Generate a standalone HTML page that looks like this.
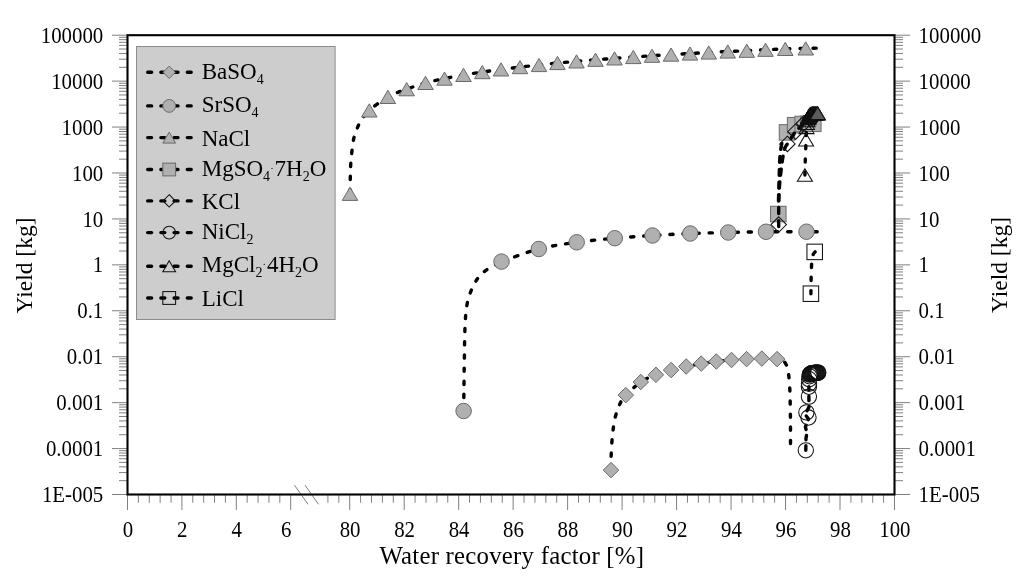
<!DOCTYPE html>
<html><head><meta charset="utf-8"><title>Yield vs water recovery factor</title>
<style>html,body{margin:0;padding:0;background:#fff}svg{display:block}</style></head>
<body>
<svg width="1024" height="587" viewBox="0 0 1024 587" font-family="Liberation Serif, serif">
<rect width="1024" height="587" fill="#fff"/>
<path d="M112.00 494.50 H127.50 M894.50 494.50 H910.00 M119.00 480.67 H127.50 M894.50 480.67 H903.00 M119.00 472.59 H127.50 M894.50 472.59 H903.00 M119.00 466.85 H127.50 M894.50 466.85 H903.00 M119.00 462.40 H127.50 M894.50 462.40 H903.00 M119.00 458.76 H127.50 M894.50 458.76 H903.00 M119.00 455.68 H127.50 M894.50 455.68 H903.00 M119.00 453.02 H127.50 M894.50 453.02 H903.00 M119.00 450.67 H127.50 M894.50 450.67 H903.00 M112.00 448.57 H127.50 M894.50 448.57 H910.00 M119.00 434.74 H127.50 M894.50 434.74 H903.00 M119.00 426.66 H127.50 M894.50 426.66 H903.00 M119.00 420.92 H127.50 M894.50 420.92 H903.00 M119.00 416.47 H127.50 M894.50 416.47 H903.00 M119.00 412.83 H127.50 M894.50 412.83 H903.00 M119.00 409.75 H127.50 M894.50 409.75 H903.00 M119.00 407.09 H127.50 M894.50 407.09 H903.00 M119.00 404.74 H127.50 M894.50 404.74 H903.00 M112.00 402.64 H127.50 M894.50 402.64 H910.00 M119.00 388.81 H127.50 M894.50 388.81 H903.00 M119.00 380.73 H127.50 M894.50 380.73 H903.00 M119.00 374.99 H127.50 M894.50 374.99 H903.00 M119.00 370.54 H127.50 M894.50 370.54 H903.00 M119.00 366.90 H127.50 M894.50 366.90 H903.00 M119.00 363.82 H127.50 M894.50 363.82 H903.00 M119.00 361.16 H127.50 M894.50 361.16 H903.00 M119.00 358.81 H127.50 M894.50 358.81 H903.00 M112.00 356.71 H127.50 M894.50 356.71 H910.00 M119.00 342.88 H127.50 M894.50 342.88 H903.00 M119.00 334.80 H127.50 M894.50 334.80 H903.00 M119.00 329.06 H127.50 M894.50 329.06 H903.00 M119.00 324.61 H127.50 M894.50 324.61 H903.00 M119.00 320.97 H127.50 M894.50 320.97 H903.00 M119.00 317.89 H127.50 M894.50 317.89 H903.00 M119.00 315.23 H127.50 M894.50 315.23 H903.00 M119.00 312.88 H127.50 M894.50 312.88 H903.00 M112.00 310.78 H127.50 M894.50 310.78 H910.00 M119.00 296.95 H127.50 M894.50 296.95 H903.00 M119.00 288.87 H127.50 M894.50 288.87 H903.00 M119.00 283.13 H127.50 M894.50 283.13 H903.00 M119.00 278.68 H127.50 M894.50 278.68 H903.00 M119.00 275.04 H127.50 M894.50 275.04 H903.00 M119.00 271.96 H127.50 M894.50 271.96 H903.00 M119.00 269.30 H127.50 M894.50 269.30 H903.00 M119.00 266.95 H127.50 M894.50 266.95 H903.00 M112.00 264.85 H127.50 M894.50 264.85 H910.00 M119.00 251.02 H127.50 M894.50 251.02 H903.00 M119.00 242.94 H127.50 M894.50 242.94 H903.00 M119.00 237.20 H127.50 M894.50 237.20 H903.00 M119.00 232.75 H127.50 M894.50 232.75 H903.00 M119.00 229.11 H127.50 M894.50 229.11 H903.00 M119.00 226.03 H127.50 M894.50 226.03 H903.00 M119.00 223.37 H127.50 M894.50 223.37 H903.00 M119.00 221.02 H127.50 M894.50 221.02 H903.00 M112.00 218.92 H127.50 M894.50 218.92 H910.00 M119.00 205.09 H127.50 M894.50 205.09 H903.00 M119.00 197.01 H127.50 M894.50 197.01 H903.00 M119.00 191.27 H127.50 M894.50 191.27 H903.00 M119.00 186.82 H127.50 M894.50 186.82 H903.00 M119.00 183.18 H127.50 M894.50 183.18 H903.00 M119.00 180.10 H127.50 M894.50 180.10 H903.00 M119.00 177.44 H127.50 M894.50 177.44 H903.00 M119.00 175.09 H127.50 M894.50 175.09 H903.00 M112.00 172.99 H127.50 M894.50 172.99 H910.00 M119.00 159.16 H127.50 M894.50 159.16 H903.00 M119.00 151.08 H127.50 M894.50 151.08 H903.00 M119.00 145.34 H127.50 M894.50 145.34 H903.00 M119.00 140.89 H127.50 M894.50 140.89 H903.00 M119.00 137.25 H127.50 M894.50 137.25 H903.00 M119.00 134.17 H127.50 M894.50 134.17 H903.00 M119.00 131.51 H127.50 M894.50 131.51 H903.00 M119.00 129.16 H127.50 M894.50 129.16 H903.00 M112.00 127.06 H127.50 M894.50 127.06 H910.00 M119.00 113.23 H127.50 M894.50 113.23 H903.00 M119.00 105.15 H127.50 M894.50 105.15 H903.00 M119.00 99.41 H127.50 M894.50 99.41 H903.00 M119.00 94.96 H127.50 M894.50 94.96 H903.00 M119.00 91.32 H127.50 M894.50 91.32 H903.00 M119.00 88.24 H127.50 M894.50 88.24 H903.00 M119.00 85.58 H127.50 M894.50 85.58 H903.00 M119.00 83.23 H127.50 M894.50 83.23 H903.00 M112.00 81.13 H127.50 M894.50 81.13 H910.00 M119.00 67.30 H127.50 M894.50 67.30 H903.00 M119.00 59.22 H127.50 M894.50 59.22 H903.00 M119.00 53.48 H127.50 M894.50 53.48 H903.00 M119.00 49.03 H127.50 M894.50 49.03 H903.00 M119.00 45.39 H127.50 M894.50 45.39 H903.00 M119.00 42.31 H127.50 M894.50 42.31 H903.00 M119.00 39.65 H127.50 M894.50 39.65 H903.00 M119.00 37.30 H127.50 M894.50 37.30 H903.00 M112.00 35.20 H127.50 M894.50 35.20 H910.00 M127.50 494.50 V510.00 M138.38 494.50 V502.75 M149.26 494.50 V502.75 M160.14 494.50 V502.75 M171.02 494.50 V502.75 M181.90 494.50 V510.00 M192.78 494.50 V502.75 M203.66 494.50 V502.75 M214.54 494.50 V502.75 M225.42 494.50 V502.75 M236.30 494.50 V510.00 M247.18 494.50 V502.75 M258.06 494.50 V502.75 M268.94 494.50 V502.75 M279.82 494.50 V502.75 M290.70 494.50 V510.00 M327.91 494.50 V502.75 M338.80 494.50 V502.75 M349.70 494.50 V510.00 M360.60 494.50 V502.75 M371.49 494.50 V502.75 M382.39 494.50 V502.75 M393.28 494.50 V502.75 M404.18 494.50 V510.00 M415.08 494.50 V502.75 M425.97 494.50 V502.75 M436.87 494.50 V502.75 M447.76 494.50 V502.75 M458.66 494.50 V510.00 M469.56 494.50 V502.75 M480.45 494.50 V502.75 M491.35 494.50 V502.75 M502.24 494.50 V502.75 M513.14 494.50 V510.00 M524.04 494.50 V502.75 M534.93 494.50 V502.75 M545.83 494.50 V502.75 M556.72 494.50 V502.75 M567.62 494.50 V510.00 M578.52 494.50 V502.75 M589.41 494.50 V502.75 M600.31 494.50 V502.75 M611.20 494.50 V502.75 M622.10 494.50 V510.00 M633.00 494.50 V502.75 M643.89 494.50 V502.75 M654.79 494.50 V502.75 M665.68 494.50 V502.75 M676.58 494.50 V510.00 M687.48 494.50 V502.75 M698.37 494.50 V502.75 M709.27 494.50 V502.75 M720.16 494.50 V502.75 M731.06 494.50 V510.00 M741.96 494.50 V502.75 M752.85 494.50 V502.75 M763.75 494.50 V502.75 M774.64 494.50 V502.75 M785.54 494.50 V510.00 M796.44 494.50 V502.75 M807.33 494.50 V502.75 M818.23 494.50 V502.75 M829.12 494.50 V502.75 M840.02 494.50 V510.00 M850.92 494.50 V502.75 M861.81 494.50 V502.75 M872.71 494.50 V502.75 M883.60 494.50 V502.75 M894.50 494.50 V510.00" stroke="#808080" stroke-width="1" fill="none"/>
<path d="M294.5 485.2 L308 504.3 M305 485.2 L318.5 504.3" stroke="#808080" stroke-width="1" fill="none"/>
<rect x="136.5" y="46.5" width="198.6" height="273" fill="#cdcdcd" stroke="#8c8c8c" stroke-width="1"/>
<path d="M611.00 470.10 C611.02 467.92 610.87 462.68 611.10 457.00 C611.33 451.32 611.78 442.33 612.40 436.00 C613.02 429.67 613.77 423.83 614.80 419.00 C615.83 414.17 617.40 410.17 618.60 407.00 C619.80 403.83 620.80 401.98 622.00 400.00 C623.20 398.02 625.17 395.92 625.80 395.10" fill="none" stroke="#000" stroke-width="3.4" stroke-linecap="round" stroke-dasharray="3.2 9.9" stroke-dashoffset="12.30"/>
<path d="M625.80 395.10 C628.30 392.92 635.78 385.38 640.80 382.00 C645.82 378.62 650.85 376.78 655.90 374.80 C660.95 372.82 666.05 371.48 671.10 370.10 C676.15 368.72 681.18 367.58 686.20 366.50 C691.22 365.42 696.18 364.43 701.20 363.60 C706.22 362.77 711.25 362.10 716.30 361.50 C721.35 360.90 726.45 360.40 731.50 360.00 C736.55 359.60 741.55 359.33 746.60 359.10 C751.65 358.87 756.72 358.60 761.80 358.60 C766.88 358.60 773.90 358.93 777.10 359.10 C780.30 359.27 779.77 359.12 781.00 359.60 C782.23 360.08 783.48 360.77 784.50 362.00 C785.52 363.23 786.38 364.67 787.10 367.00 C787.82 369.33 788.35 372.33 788.80 376.00 C789.25 379.67 789.57 384.55 789.80 389.00 C790.03 393.45 790.10 398.20 790.20 402.70 C790.30 407.20 790.35 411.68 790.40 416.00 C790.45 420.32 790.48 423.60 790.50 428.60 C790.52 433.60 790.50 443.10 790.50 446.00" fill="none" stroke="#000" stroke-width="3.4" stroke-linecap="round" stroke-dasharray="3.2 9.9" stroke-dashoffset="2.02"/>
<path d="M611.00 462.35 L618.75 470.10 L611.00 477.85 L603.25 470.10 Z" fill="#b0b0b0" stroke="#6a6a6a" stroke-width="1"/>
<path d="M625.80 387.35 L633.55 395.10 L625.80 402.85 L618.05 395.10 Z" fill="#b0b0b0" stroke="#6a6a6a" stroke-width="1"/>
<path d="M640.80 374.25 L648.55 382.00 L640.80 389.75 L633.05 382.00 Z" fill="#b0b0b0" stroke="#6a6a6a" stroke-width="1"/>
<path d="M655.90 367.05 L663.65 374.80 L655.90 382.55 L648.15 374.80 Z" fill="#b0b0b0" stroke="#6a6a6a" stroke-width="1"/>
<path d="M671.10 362.35 L678.85 370.10 L671.10 377.85 L663.35 370.10 Z" fill="#b0b0b0" stroke="#6a6a6a" stroke-width="1"/>
<path d="M686.20 358.75 L693.95 366.50 L686.20 374.25 L678.45 366.50 Z" fill="#b0b0b0" stroke="#6a6a6a" stroke-width="1"/>
<path d="M701.20 355.85 L708.95 363.60 L701.20 371.35 L693.45 363.60 Z" fill="#b0b0b0" stroke="#6a6a6a" stroke-width="1"/>
<path d="M716.30 353.75 L724.05 361.50 L716.30 369.25 L708.55 361.50 Z" fill="#b0b0b0" stroke="#6a6a6a" stroke-width="1"/>
<path d="M731.50 352.25 L739.25 360.00 L731.50 367.75 L723.75 360.00 Z" fill="#b0b0b0" stroke="#6a6a6a" stroke-width="1"/>
<path d="M746.60 351.35 L754.35 359.10 L746.60 366.85 L738.85 359.10 Z" fill="#b0b0b0" stroke="#6a6a6a" stroke-width="1"/>
<path d="M761.80 350.85 L769.55 358.60 L761.80 366.35 L754.05 358.60 Z" fill="#b0b0b0" stroke="#6a6a6a" stroke-width="1"/>
<path d="M777.10 351.35 L784.85 359.10 L777.10 366.85 L769.35 359.10 Z" fill="#b0b0b0" stroke="#6a6a6a" stroke-width="1"/>
<path d="M463.60 411.00 C463.65 407.77 463.78 399.60 463.90 391.60 C464.02 383.60 464.12 373.72 464.30 363.00 C464.48 352.28 464.58 336.83 465.00 327.30 C465.42 317.77 465.72 312.07 466.80 305.80 C467.88 299.53 469.53 294.47 471.50 289.70 C473.47 284.93 475.93 280.60 478.60 277.20 C481.27 273.80 483.68 271.90 487.50 269.30 C491.32 266.70 499.17 262.88 501.50 261.60" fill="none" stroke="#000" stroke-width="3.4" stroke-linecap="round" stroke-dasharray="3.2 9.9" stroke-dashoffset="12.50"/>
<path d="M501.50 261.60 C507.72 259.50 526.27 252.22 538.80 249.00 C551.33 245.78 564.03 244.10 576.70 242.30 C589.37 240.50 602.17 239.33 614.80 238.20 C627.43 237.07 639.92 236.28 652.50 235.50 C665.08 234.72 677.62 234.00 690.25 233.50 C702.88 233.00 715.62 232.79 728.25 232.50 C740.88 232.21 752.96 231.88 766.00 231.75 C779.04 231.62 797.58 231.71 806.50 231.70 C815.42 231.69 817.33 231.70 819.50 231.70" fill="none" stroke="#000" stroke-width="3.4" stroke-linecap="round" stroke-dasharray="3.2 9.9" stroke-dashoffset="12.01"/>
<circle cx="463.60" cy="411.00" r="7.75" fill="#b0b0b0" stroke="#6a6a6a" stroke-width="1"/>
<circle cx="501.50" cy="261.60" r="7.75" fill="#b0b0b0" stroke="#6a6a6a" stroke-width="1"/>
<circle cx="538.80" cy="249.00" r="7.75" fill="#b0b0b0" stroke="#6a6a6a" stroke-width="1"/>
<circle cx="576.70" cy="242.30" r="7.75" fill="#b0b0b0" stroke="#6a6a6a" stroke-width="1"/>
<circle cx="614.80" cy="238.20" r="7.75" fill="#b0b0b0" stroke="#6a6a6a" stroke-width="1"/>
<circle cx="652.50" cy="235.50" r="7.75" fill="#b0b0b0" stroke="#6a6a6a" stroke-width="1"/>
<circle cx="690.25" cy="233.50" r="7.75" fill="#b0b0b0" stroke="#6a6a6a" stroke-width="1"/>
<circle cx="728.25" cy="232.50" r="7.75" fill="#b0b0b0" stroke="#6a6a6a" stroke-width="1"/>
<circle cx="766.00" cy="231.75" r="7.75" fill="#b0b0b0" stroke="#6a6a6a" stroke-width="1"/>
<circle cx="806.50" cy="231.70" r="7.75" fill="#b0b0b0" stroke="#6a6a6a" stroke-width="1"/>
<path d="M350.00 193.80 C350.05 191.12 350.18 182.57 350.30 177.70 C350.42 172.83 350.43 168.97 350.70 164.60 C350.97 160.23 351.38 155.87 351.90 151.50 C352.42 147.13 352.80 142.57 353.80 138.40 C354.80 134.23 356.30 130.05 357.90 126.50 C359.50 122.95 361.50 119.85 363.40 117.10 C365.30 114.35 368.32 111.18 369.30 110.00" fill="none" stroke="#000" stroke-width="3.4" stroke-linecap="round" stroke-dasharray="3.2 9.9" stroke-dashoffset="12.00"/>
<path d="M369.30 110.00 C372.40 107.82 381.67 100.37 387.90 96.90 C394.13 93.43 400.43 91.53 406.70 89.20 C412.97 86.87 419.20 84.67 425.50 82.90 C431.80 81.13 438.17 79.93 444.50 78.60 C450.83 77.27 457.20 75.98 463.50 74.90 C469.80 73.82 476.05 73.02 482.30 72.10 C488.55 71.18 494.72 70.23 501.00 69.40 C507.28 68.57 513.67 67.83 520.00 67.10 C526.33 66.37 532.75 65.68 539.00 65.00 C545.25 64.32 551.25 63.60 557.50 63.00 C563.75 62.40 570.17 61.94 576.50 61.40 C582.83 60.86 589.17 60.25 595.50 59.75 C601.83 59.25 608.20 58.86 614.50 58.40 C620.80 57.94 627.05 57.44 633.30 57.00 C639.55 56.56 645.72 56.15 652.00 55.75 C658.28 55.35 664.67 54.98 671.00 54.60 C677.33 54.23 683.71 53.85 690.00 53.50 C696.29 53.15 702.46 52.83 708.75 52.50 C715.04 52.17 721.42 51.79 727.75 51.50 C734.08 51.21 740.46 51.04 746.75 50.75 C753.04 50.46 759.08 50.06 765.50 49.75 C771.92 49.44 778.54 49.12 785.25 48.90 C791.96 48.67 800.04 48.55 805.75 48.40 C811.46 48.25 817.21 48.07 819.50 48.00" fill="none" stroke="#000" stroke-width="3.4" stroke-linecap="round" stroke-dasharray="3.2 9.9" stroke-dashoffset="6.09"/>
<path d="M350.00 187.20 L357.75 200.40 L342.25 200.40 Z" fill="#b0b0b0" stroke="#6a6a6a" stroke-width="1"/>
<path d="M369.30 103.80 L377.05 117.00 L361.55 117.00 Z" fill="#b0b0b0" stroke="#6a6a6a" stroke-width="1"/>
<path d="M387.90 90.30 L395.65 103.50 L380.15 103.50 Z" fill="#b0b0b0" stroke="#6a6a6a" stroke-width="1"/>
<path d="M406.70 82.60 L414.45 95.80 L398.95 95.80 Z" fill="#b0b0b0" stroke="#6a6a6a" stroke-width="1"/>
<path d="M425.50 76.30 L433.25 89.50 L417.75 89.50 Z" fill="#b0b0b0" stroke="#6a6a6a" stroke-width="1"/>
<path d="M444.50 72.00 L452.25 85.20 L436.75 85.20 Z" fill="#b0b0b0" stroke="#6a6a6a" stroke-width="1"/>
<path d="M463.50 68.30 L471.25 81.50 L455.75 81.50 Z" fill="#b0b0b0" stroke="#6a6a6a" stroke-width="1"/>
<path d="M482.30 65.50 L490.05 78.70 L474.55 78.70 Z" fill="#b0b0b0" stroke="#6a6a6a" stroke-width="1"/>
<path d="M501.00 62.80 L508.75 76.00 L493.25 76.00 Z" fill="#b0b0b0" stroke="#6a6a6a" stroke-width="1"/>
<path d="M520.00 60.50 L527.75 73.70 L512.25 73.70 Z" fill="#b0b0b0" stroke="#6a6a6a" stroke-width="1"/>
<path d="M539.00 58.40 L546.75 71.60 L531.25 71.60 Z" fill="#b0b0b0" stroke="#6a6a6a" stroke-width="1"/>
<path d="M557.50 56.40 L565.25 69.60 L549.75 69.60 Z" fill="#b0b0b0" stroke="#6a6a6a" stroke-width="1"/>
<path d="M576.50 54.80 L584.25 68.00 L568.75 68.00 Z" fill="#b0b0b0" stroke="#6a6a6a" stroke-width="1"/>
<path d="M595.50 53.15 L603.25 66.35 L587.75 66.35 Z" fill="#b0b0b0" stroke="#6a6a6a" stroke-width="1"/>
<path d="M614.50 51.80 L622.25 65.00 L606.75 65.00 Z" fill="#b0b0b0" stroke="#6a6a6a" stroke-width="1"/>
<path d="M633.30 50.40 L641.05 63.60 L625.55 63.60 Z" fill="#b0b0b0" stroke="#6a6a6a" stroke-width="1"/>
<path d="M652.00 49.15 L659.75 62.35 L644.25 62.35 Z" fill="#b0b0b0" stroke="#6a6a6a" stroke-width="1"/>
<path d="M671.00 48.00 L678.75 61.20 L663.25 61.20 Z" fill="#b0b0b0" stroke="#6a6a6a" stroke-width="1"/>
<path d="M690.00 46.90 L697.75 60.10 L682.25 60.10 Z" fill="#b0b0b0" stroke="#6a6a6a" stroke-width="1"/>
<path d="M708.75 45.90 L716.50 59.10 L701.00 59.10 Z" fill="#b0b0b0" stroke="#6a6a6a" stroke-width="1"/>
<path d="M727.75 44.90 L735.50 58.10 L720.00 58.10 Z" fill="#b0b0b0" stroke="#6a6a6a" stroke-width="1"/>
<path d="M746.75 44.15 L754.50 57.35 L739.00 57.35 Z" fill="#b0b0b0" stroke="#6a6a6a" stroke-width="1"/>
<path d="M765.50 43.15 L773.25 56.35 L757.75 56.35 Z" fill="#b0b0b0" stroke="#6a6a6a" stroke-width="1"/>
<path d="M785.25 42.30 L793.00 55.50 L777.50 55.50 Z" fill="#b0b0b0" stroke="#6a6a6a" stroke-width="1"/>
<path d="M805.75 41.80 L813.50 55.00 L798.00 55.00 Z" fill="#b0b0b0" stroke="#6a6a6a" stroke-width="1"/>
<path d="M778.30 214.00 C778.33 211.67 778.40 204.67 778.50 200.00 C778.60 195.33 778.77 190.50 778.90 186.00 C779.03 181.50 779.15 177.50 779.30 173.00 C779.45 168.50 779.47 163.50 779.80 159.00 C780.13 154.50 780.63 149.50 781.30 146.00 C781.97 142.50 782.85 140.27 783.80 138.00 C784.75 135.73 785.12 134.53 787.00 132.40 C788.88 130.27 792.48 126.60 795.10 125.20 C797.72 123.80 799.67 124.23 802.70 124.00 C805.73 123.77 811.53 123.83 813.30 123.80" fill="none" stroke="#000" stroke-width="3.4" stroke-linecap="round" stroke-dasharray="6 6.9"/>
<rect x="770.55" y="206.25" width="15.50" height="15.50" fill="#b0b0b0" stroke="#6a6a6a" stroke-width="1"/>
<rect x="779.25" y="124.65" width="15.50" height="15.50" fill="#b0b0b0" stroke="#6a6a6a" stroke-width="1"/>
<rect x="787.35" y="117.45" width="15.50" height="15.50" fill="#b0b0b0" stroke="#6a6a6a" stroke-width="1"/>
<rect x="794.95" y="116.25" width="15.50" height="15.50" fill="#b0b0b0" stroke="#6a6a6a" stroke-width="1"/>
<rect x="800.75" y="116.05" width="15.50" height="15.50" fill="#b0b0b0" stroke="#6a6a6a" stroke-width="1"/>
<rect x="805.55" y="116.05" width="15.50" height="15.50" fill="#b0b0b0" stroke="#6a6a6a" stroke-width="1"/>
<path d="M778.70 226.50 C778.70 223.75 778.65 214.92 778.70 210.00 C778.75 205.08 778.87 201.00 779.00 197.00 C779.13 193.00 779.20 190.00 779.50 186.00 C779.80 182.00 780.28 177.50 780.80 173.00 C781.32 168.50 781.93 163.08 782.60 159.00 C783.27 154.92 784.00 151.02 784.80 148.50 C785.60 145.98 785.62 146.70 787.40 143.90 C789.18 141.10 792.73 135.13 795.50 131.70 C798.27 128.27 801.58 125.42 804.00 123.30 C806.42 121.18 808.25 120.13 810.00 119.00 C811.75 117.87 813.75 116.92 814.50 116.50" fill="none" stroke="#000" stroke-width="3.4" stroke-linecap="round" stroke-dasharray="6 6.9"/>
<path d="M778.70 216.85 L786.45 224.60 L778.70 232.35 L770.95 224.60 Z" fill="none" stroke="#111" stroke-width="1.05"/>
<path d="M787.40 136.15 L795.15 143.90 L787.40 151.65 L779.65 143.90 Z" fill="none" stroke="#111" stroke-width="1.05"/>
<path d="M795.50 123.95 L803.25 131.70 L795.50 139.45 L787.75 131.70 Z" fill="none" stroke="#111" stroke-width="1.05"/>
<path d="M804.00 115.55 L811.75 123.30 L804.00 131.05 L796.25 123.30 Z" fill="none" stroke="#111" stroke-width="1.05"/>
<path d="M810.00 111.25 L817.75 119.00 L810.00 126.75 L802.25 119.00 Z" fill="none" stroke="#111" stroke-width="1.05"/>
<path d="M814.50 108.75 L822.25 116.50 L814.50 124.25 L806.75 116.50 Z" fill="none" stroke="#111" stroke-width="1.05"/>
<path d="M805.8 450.3 L806.0 438.0 L807.0 433.0 L805.4 427.0 L808.5 419.0 L805.2 414.5 L808.9 407.0 L808.9 396.6 L808.9 386.8" fill="none" stroke="#000" stroke-width="3.4" stroke-linecap="round" stroke-dasharray="4.5 6"/>
<circle cx="805.80" cy="450.30" r="7.65" fill="none" stroke="#111" stroke-width="1.05"/>
<circle cx="808.50" cy="417.50" r="7.65" fill="none" stroke="#111" stroke-width="1.05"/>
<circle cx="806.40" cy="412.40" r="7.65" fill="none" stroke="#111" stroke-width="1.05"/>
<circle cx="808.90" cy="396.60" r="7.65" fill="none" stroke="#111" stroke-width="1.05"/>
<circle cx="808.90" cy="386.80" r="7.65" fill="none" stroke="#111" stroke-width="1.05"/>
<circle cx="809.00" cy="383.60" r="7.65" fill="none" stroke="#111" stroke-width="1.05"/>
<circle cx="809.20" cy="379.20" r="7.65" fill="none" stroke="#111" stroke-width="1.05"/>
<circle cx="809.50" cy="376.30" r="7.65" fill="none" stroke="#111" stroke-width="1.05"/>
<circle cx="809.80" cy="374.60" r="7.65" fill="none" stroke="#111" stroke-width="1.05"/>
<circle cx="810.21" cy="374.14" r="7.65" fill="none" stroke="#111" stroke-width="1.05"/>
<circle cx="810.63" cy="373.69" r="7.65" fill="none" stroke="#111" stroke-width="1.05"/>
<circle cx="811.22" cy="373.48" r="7.65" fill="none" stroke="#111" stroke-width="1.05"/>
<circle cx="811.80" cy="373.27" r="7.65" fill="none" stroke="#111" stroke-width="1.05"/>
<circle cx="812.40" cy="373.14" r="7.65" fill="none" stroke="#111" stroke-width="1.05"/>
<circle cx="813.02" cy="373.05" r="7.65" fill="none" stroke="#111" stroke-width="1.05"/>
<circle cx="813.63" cy="372.96" r="7.65" fill="none" stroke="#111" stroke-width="1.05"/>
<circle cx="814.25" cy="372.88" r="7.65" fill="none" stroke="#111" stroke-width="1.05"/>
<circle cx="814.86" cy="372.81" r="7.65" fill="none" stroke="#111" stroke-width="1.05"/>
<circle cx="815.48" cy="372.75" r="7.65" fill="none" stroke="#111" stroke-width="1.05"/>
<circle cx="816.10" cy="372.70" r="7.65" fill="none" stroke="#111" stroke-width="1.05"/>
<circle cx="816.72" cy="372.67" r="7.65" fill="none" stroke="#111" stroke-width="1.05"/>
<circle cx="817.34" cy="372.64" r="7.65" fill="none" stroke="#111" stroke-width="1.05"/>
<circle cx="817.96" cy="372.61" r="7.65" fill="none" stroke="#111" stroke-width="1.05"/>
<circle cx="818.30" cy="372.60" r="7.65" fill="none" stroke="#111" stroke-width="1.05"/>
<path d="M804.90 175.00 C804.97 172.50 805.10 165.88 805.30 160.00 C805.50 154.12 805.90 145.15 806.10 139.70 C806.30 134.25 806.18 130.92 806.50 127.30 C806.82 123.68 807.42 120.28 808.00 118.00 C808.58 115.72 809.67 114.33 810.00 113.60" fill="none" stroke="#000" stroke-width="3.4" stroke-linecap="round" stroke-dasharray="3.2 9.9"/>
<path d="M804.90 168.70 L812.40 181.30 L797.40 181.30 Z" fill="none" stroke="#111" stroke-width="1.05"/>
<path d="M806.10 133.40 L813.60 146.00 L798.60 146.00 Z" fill="none" stroke="#111" stroke-width="1.05"/>
<path d="M806.50 121.00 L814.00 133.60 L799.00 133.60 Z" fill="none" stroke="#111" stroke-width="1.05"/>
<path d="M807.00 116.90 L814.50 129.50 L799.50 129.50 Z" fill="none" stroke="#111" stroke-width="1.05"/>
<path d="M807.50 114.10 L815.00 126.70 L800.00 126.70 Z" fill="none" stroke="#111" stroke-width="1.05"/>
<path d="M808.00 112.00 L815.50 124.60 L800.50 124.60 Z" fill="none" stroke="#111" stroke-width="1.05"/>
<path d="M808.15 111.58 L815.65 124.18 L800.65 124.18 Z" fill="none" stroke="#111" stroke-width="1.05"/>
<path d="M808.30 111.15 L815.80 123.75 L800.80 123.75 Z" fill="none" stroke="#111" stroke-width="1.05"/>
<path d="M808.45 110.73 L815.95 123.33 L800.95 123.33 Z" fill="none" stroke="#111" stroke-width="1.05"/>
<path d="M808.60 110.30 L816.10 122.90 L801.10 122.90 Z" fill="none" stroke="#111" stroke-width="1.05"/>
<path d="M808.81 109.91 L816.31 122.51 L801.31 122.51 Z" fill="none" stroke="#111" stroke-width="1.05"/>
<path d="M809.03 109.51 L816.53 122.11 L801.53 122.11 Z" fill="none" stroke="#111" stroke-width="1.05"/>
<path d="M809.24 109.11 L816.74 121.71 L801.74 121.71 Z" fill="none" stroke="#111" stroke-width="1.05"/>
<path d="M809.51 108.76 L817.01 121.36 L802.01 121.36 Z" fill="none" stroke="#111" stroke-width="1.05"/>
<path d="M809.82 108.43 L817.32 121.03 L802.32 121.03 Z" fill="none" stroke="#111" stroke-width="1.05"/>
<path d="M810.12 108.09 L817.62 120.69 L802.62 120.69 Z" fill="none" stroke="#111" stroke-width="1.05"/>
<path d="M810.49 107.85 L817.99 120.45 L802.99 120.45 Z" fill="none" stroke="#111" stroke-width="1.05"/>
<path d="M810.89 107.65 L818.39 120.25 L803.39 120.25 Z" fill="none" stroke="#111" stroke-width="1.05"/>
<path d="M811.30 107.45 L818.80 120.05 L803.80 120.05 Z" fill="none" stroke="#111" stroke-width="1.05"/>
<path d="M811.73 107.33 L819.23 119.93 L804.23 119.93 Z" fill="none" stroke="#111" stroke-width="1.05"/>
<path d="M812.17 107.24 L819.67 119.84 L804.67 119.84 Z" fill="none" stroke="#111" stroke-width="1.05"/>
<path d="M812.61 107.14 L820.11 119.74 L805.11 119.74 Z" fill="none" stroke="#111" stroke-width="1.05"/>
<path d="M813.05 107.09 L820.55 119.69 L805.55 119.69 Z" fill="none" stroke="#111" stroke-width="1.05"/>
<path d="M813.50 107.09 L821.00 119.69 L806.00 119.69 Z" fill="none" stroke="#111" stroke-width="1.05"/>
<path d="M813.95 107.08 L821.45 119.68 L806.45 119.68 Z" fill="none" stroke="#111" stroke-width="1.05"/>
<path d="M814.40 107.07 L821.90 119.67 L806.90 119.67 Z" fill="none" stroke="#111" stroke-width="1.05"/>
<path d="M814.85 107.06 L822.35 119.66 L807.35 119.66 Z" fill="none" stroke="#111" stroke-width="1.05"/>
<path d="M815.30 107.05 L822.80 119.65 L807.80 119.65 Z" fill="none" stroke="#111" stroke-width="1.05"/>
<path d="M815.75 107.04 L823.25 119.64 L808.25 119.64 Z" fill="none" stroke="#111" stroke-width="1.05"/>
<path d="M816.20 107.03 L823.70 119.63 L808.70 119.63 Z" fill="none" stroke="#111" stroke-width="1.05"/>
<path d="M816.65 107.02 L824.15 119.62 L809.15 119.62 Z" fill="none" stroke="#111" stroke-width="1.05"/>
<path d="M817.10 107.01 L824.60 119.61 L809.60 119.61 Z" fill="none" stroke="#111" stroke-width="1.05"/>
<path d="M817.55 107.00 L825.05 119.60 L810.05 119.60 Z" fill="none" stroke="#111" stroke-width="1.05"/>
<path d="M817.70 107.00 L825.20 119.60 L810.20 119.60 Z" fill="none" stroke="#111" stroke-width="1.05"/>
<path d="M817.70 107.00 L825.20 119.60 L810.20 119.60 Z" fill="#5c5c5c" stroke="#111" stroke-width="1.05"/>
<path d="M810.90 293.70 C810.95 290.58 811.05 280.28 811.20 275.00 C811.35 269.72 811.50 265.33 811.80 262.00 C812.10 258.67 812.38 256.75 813.00 255.00 C813.62 253.25 814.83 252.17 815.50 251.50 C816.17 250.83 816.75 251.08 817.00 251.00" fill="none" stroke="#000" stroke-width="3.4" stroke-linecap="round" stroke-dasharray="3.2 9.9"/>
<rect x="803.15" y="285.95" width="15.50" height="15.50" fill="none" stroke="#111" stroke-width="1.05"/>
<rect x="806.95" y="244.15" width="15.50" height="15.50" fill="none" stroke="#111" stroke-width="1.05"/>
<rect x="127.50" y="35.20" width="767.00" height="459.30" fill="none" stroke="#000" stroke-width="2.1"/>
<path d="M147.7 72.30 H191.4" fill="none" stroke="#000" stroke-width="3.4" stroke-linecap="round" stroke-dasharray="3.9 9.3"/>
<path d="M169.20 66.10 L175.40 72.30 L169.20 78.50 L163.00 72.30 Z" fill="#b0b0b0" stroke="#6a6a6a" stroke-width="1"/>
<text x="201.7" y="78.50" font-size="23">BaSO<tspan dy='5.3' font-size='14'>4</tspan></text>
<path d="M147.7 105.90 H191.4" fill="none" stroke="#000" stroke-width="3.4" stroke-linecap="round" stroke-dasharray="3.9 9.3"/>
<circle cx="169.20" cy="105.90" r="6.40" fill="#b0b0b0" stroke="#6a6a6a" stroke-width="1"/>
<text x="201.7" y="112.10" font-size="23">SrSO<tspan dy='5.3' font-size='14'>4</tspan></text>
<path d="M147.7 137.60 H191.4" fill="none" stroke="#000" stroke-width="3.4" stroke-linecap="round" stroke-dasharray="3.9 9.3"/>
<path d="M169.20 132.10 L175.60 143.10 L162.80 143.10 Z" fill="#b0b0b0" stroke="#6a6a6a" stroke-width="1"/>
<text x="201.7" y="145.80" font-size="23">NaCl</text>
<path d="M147.7 169.50 H191.4" fill="none" stroke="#000" stroke-width="3.4" stroke-linecap="round" stroke-dasharray="3.9 9.3"/>
<rect x="162.80" y="163.10" width="12.80" height="12.80" fill="#b0b0b0" stroke="#6a6a6a" stroke-width="1"/>
<text x="201.7" y="175.70" font-size="23">MgSO<tspan dy='5.3' font-size='14'>4</tspan><tspan dy='-12.3' dx='0.7' font-size='10'>.</tspan><tspan dy='7' dx='1.3' font-size='23'>7H</tspan><tspan dy='5.3' font-size='14'>2</tspan><tspan dy='-5.3' font-size='23'>O</tspan></text>
<path d="M147.7 200.90 H191.4" fill="none" stroke="#000" stroke-width="3.4" stroke-linecap="round" stroke-dasharray="3.9 9.3"/>
<path d="M169.20 194.70 L175.40 200.90 L169.20 207.10 L163.00 200.90 Z" fill="none" stroke="#111" stroke-width="1.05"/>
<text x="201.7" y="208.90" font-size="23">KCl</text>
<path d="M147.7 232.60 H191.4" fill="none" stroke="#000" stroke-width="3.4" stroke-linecap="round" stroke-dasharray="3.9 9.3"/>
<circle cx="169.20" cy="232.60" r="6.40" fill="none" stroke="#111" stroke-width="1.05"/>
<text x="201.7" y="238.80" font-size="23">NiCl<tspan dy='5.3' font-size='14'>2</tspan></text>
<path d="M147.7 266.30 H191.4" fill="none" stroke="#000" stroke-width="3.4" stroke-linecap="round" stroke-dasharray="3.9 9.3"/>
<path d="M169.20 260.80 L175.60 271.80 L162.80 271.80 Z" fill="none" stroke="#111" stroke-width="1.05"/>
<text x="201.7" y="272.00" font-size="23">MgCl<tspan dy='5.3' font-size='14'>2</tspan><tspan dy='-12.3' dx='0.7' font-size='10'>.</tspan><tspan dy='7' dx='1.3' font-size='23'>4H</tspan><tspan dy='5.3' font-size='14'>2</tspan><tspan dy='-5.3' font-size='23'>O</tspan></text>
<path d="M147.7 298.00 H191.4" fill="none" stroke="#000" stroke-width="3.4" stroke-linecap="round" stroke-dasharray="3.9 9.3"/>
<rect x="162.80" y="291.60" width="12.80" height="12.80" fill="none" stroke="#111" stroke-width="1.05"/>
<text x="201.7" y="305.70" font-size="23">LiCl</text>
<text transform="translate(103.3,42.80) scale(0.915,1)" font-size="22.8" text-anchor="end">100000</text>
<text transform="translate(918.6,42.80) scale(0.915,1)" font-size="22.8">100000</text>
<text transform="translate(103.3,88.73) scale(0.915,1)" font-size="22.8" text-anchor="end">10000</text>
<text transform="translate(918.6,88.73) scale(0.915,1)" font-size="22.8">10000</text>
<text transform="translate(103.3,134.66) scale(0.915,1)" font-size="22.8" text-anchor="end">1000</text>
<text transform="translate(918.6,134.66) scale(0.915,1)" font-size="22.8">1000</text>
<text transform="translate(103.3,180.59) scale(0.915,1)" font-size="22.8" text-anchor="end">100</text>
<text transform="translate(918.6,180.59) scale(0.915,1)" font-size="22.8">100</text>
<text transform="translate(103.3,226.52) scale(0.915,1)" font-size="22.8" text-anchor="end">10</text>
<text transform="translate(918.6,226.52) scale(0.915,1)" font-size="22.8">10</text>
<text transform="translate(103.3,272.45) scale(0.915,1)" font-size="22.8" text-anchor="end">1</text>
<text transform="translate(918.6,272.45) scale(0.915,1)" font-size="22.8">1</text>
<text transform="translate(103.3,318.38) scale(0.915,1)" font-size="22.8" text-anchor="end">0.1</text>
<text transform="translate(918.6,318.38) scale(0.915,1)" font-size="22.8">0.1</text>
<text transform="translate(103.3,364.31) scale(0.915,1)" font-size="22.8" text-anchor="end">0.01</text>
<text transform="translate(918.6,364.31) scale(0.915,1)" font-size="22.8">0.01</text>
<text transform="translate(103.3,410.24) scale(0.915,1)" font-size="22.8" text-anchor="end">0.001</text>
<text transform="translate(918.6,410.24) scale(0.915,1)" font-size="22.8">0.001</text>
<text transform="translate(103.3,456.17) scale(0.915,1)" font-size="22.8" text-anchor="end">0.0001</text>
<text transform="translate(918.6,456.17) scale(0.915,1)" font-size="22.8">0.0001</text>
<text transform="translate(103.3,502.10) scale(0.915,1)" font-size="22.8" text-anchor="end">1E-005</text>
<text transform="translate(918.6,502.10) scale(0.915,1)" font-size="22.8">1E-005</text>
<text transform="translate(127.90,536.7) scale(0.915,1)" font-size="22.8" text-anchor="middle">0</text>
<text transform="translate(182.30,536.7) scale(0.915,1)" font-size="22.8" text-anchor="middle">2</text>
<text transform="translate(236.70,536.7) scale(0.915,1)" font-size="22.8" text-anchor="middle">4</text>
<text transform="translate(286.30,536.7) scale(0.915,1)" font-size="22.8" text-anchor="middle">6</text>
<text transform="translate(350.10,536.7) scale(0.915,1)" font-size="22.8" text-anchor="middle">80</text>
<text transform="translate(404.58,536.7) scale(0.915,1)" font-size="22.8" text-anchor="middle">82</text>
<text transform="translate(459.06,536.7) scale(0.915,1)" font-size="22.8" text-anchor="middle">84</text>
<text transform="translate(513.54,536.7) scale(0.915,1)" font-size="22.8" text-anchor="middle">86</text>
<text transform="translate(568.02,536.7) scale(0.915,1)" font-size="22.8" text-anchor="middle">88</text>
<text transform="translate(622.50,536.7) scale(0.915,1)" font-size="22.8" text-anchor="middle">90</text>
<text transform="translate(676.98,536.7) scale(0.915,1)" font-size="22.8" text-anchor="middle">92</text>
<text transform="translate(731.46,536.7) scale(0.915,1)" font-size="22.8" text-anchor="middle">94</text>
<text transform="translate(785.94,536.7) scale(0.915,1)" font-size="22.8" text-anchor="middle">96</text>
<text transform="translate(840.42,536.7) scale(0.915,1)" font-size="22.8" text-anchor="middle">98</text>
<text transform="translate(894.90,536.7) scale(0.915,1)" font-size="22.8" text-anchor="middle">100</text>
<text x="511.7" y="564" font-size="24.8" text-anchor="middle" textLength="264.5" lengthAdjust="spacing">Water recovery factor [%]</text>
<text transform="translate(32.3,265.5) rotate(-90)" font-size="23.5" text-anchor="middle">Yield [kg]</text>
<text transform="translate(1007.3,265) rotate(-90)" font-size="23.5" text-anchor="middle">Yield [kg]</text>
</svg>
</body></html>
